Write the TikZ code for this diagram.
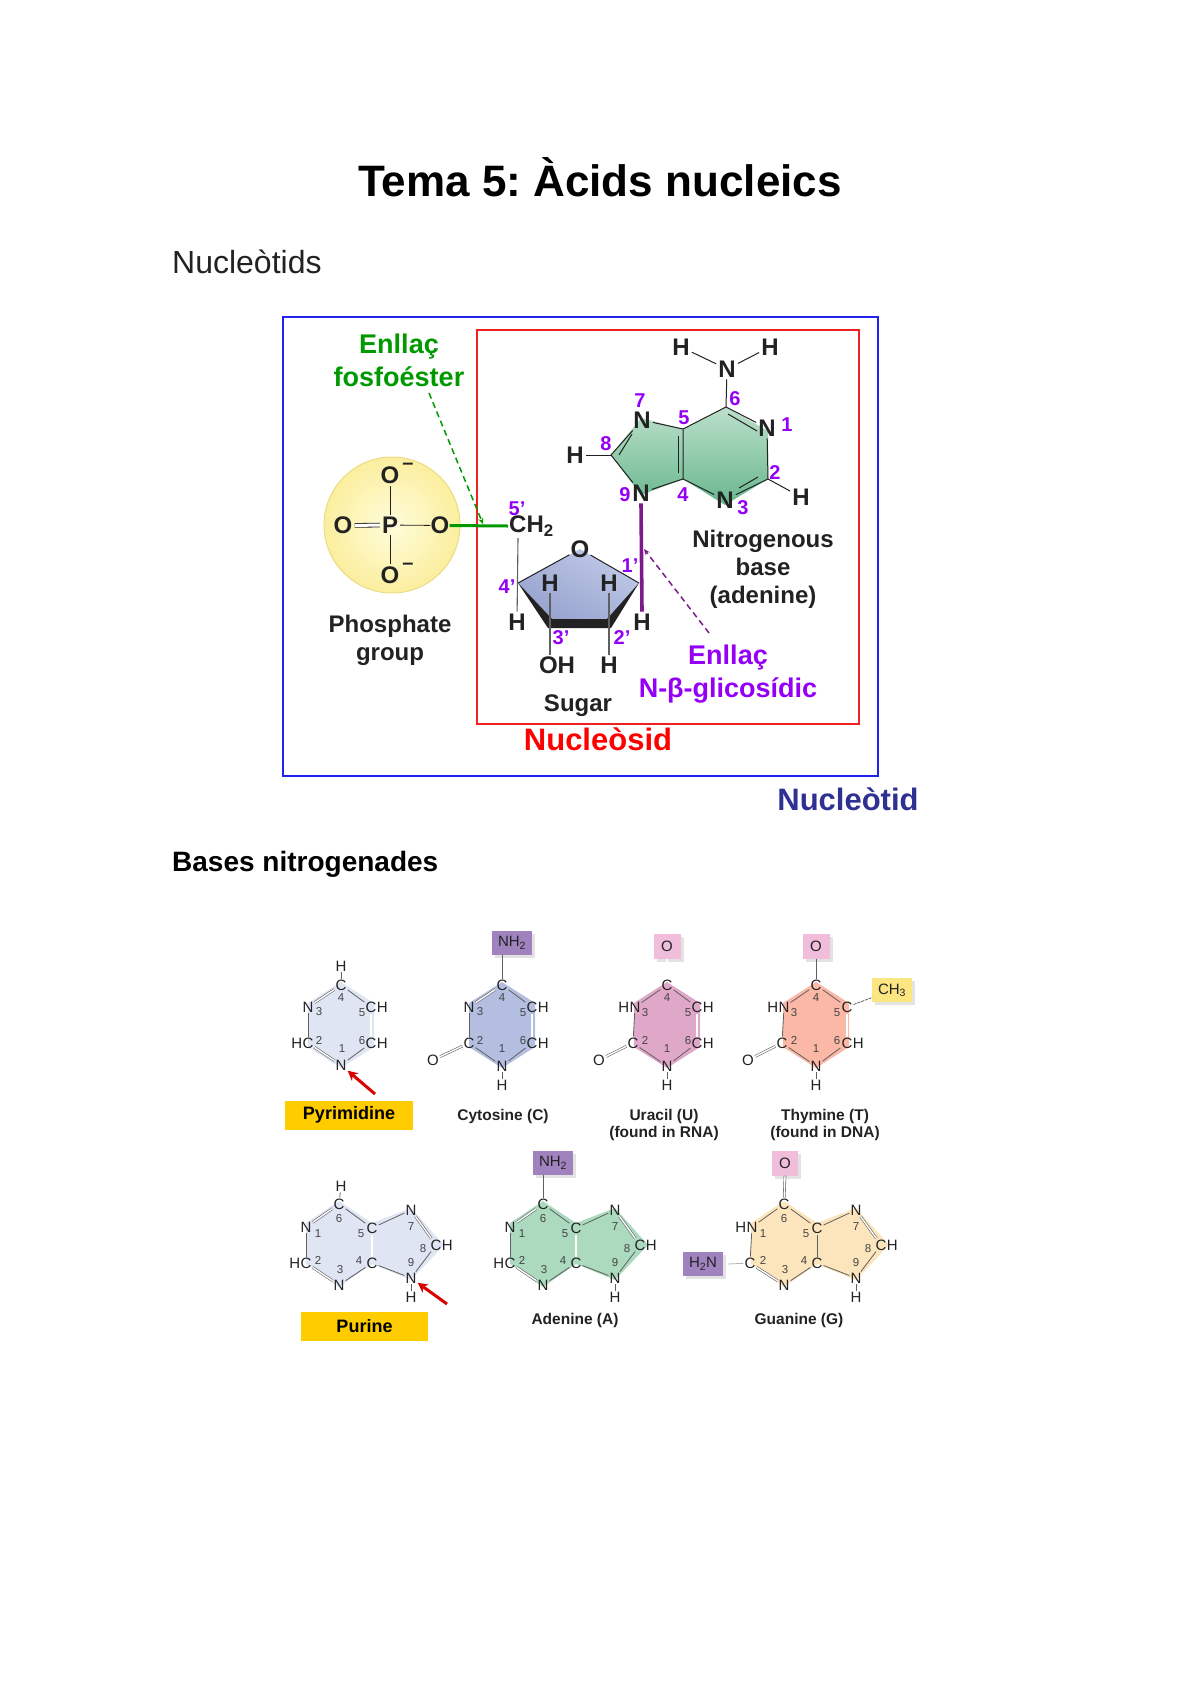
\documentclass[tikz,border=0pt]{standalone}
\usepackage{fontspec}
\setmainfont{Liberation Sans}
\usetikzlibrary{arrows.meta,calc,shadows}
\frenchspacing
\definecolor{ink}{HTML}{222222}
\definecolor{bondc}{HTML}{606060}
\definecolor{numc}{HTML}{444444}
\definecolor{bluebox}{HTML}{2222EE}
\definecolor{redbox}{HTML}{F02020}
\definecolor{grn}{HTML}{009A00}
\definecolor{pur}{HTML}{9400F5}
\definecolor{darkpur}{HTML}{7B1A8B}
\definecolor{navy}{HTML}{2E3192}
\definecolor{goldbox}{HTML}{FFCC00}
\definecolor{ringpale}{HTML}{E0E5F3}
\definecolor{ringcyt}{HTML}{B4BEE0}
\definecolor{ringura}{HTML}{E0A8C8}
\definecolor{ringthy}{HTML}{FBB8A6}
\definecolor{ringade}{HTML}{ABDABF}
\definecolor{ringgua}{HTML}{FCE5BC}
\definecolor{boxvio}{HTML}{A083BE}
\definecolor{boxpink}{HTML}{F0BEDB}
\definecolor{boxyel}{HTML}{FCE682}
\definecolor{suglight}{HTML}{C0C9E8}
\definecolor{sugdark}{HTML}{95A2CD}
\definecolor{adelight}{HTML}{BCE0CA}
\definecolor{adedark}{HTML}{68B78F}
\definecolor{phosin}{HTML}{FFFDDC}
\definecolor{phosout}{HTML}{FBEE9E}
\definecolor{phosline}{HTML}{EBD97E}
\newcommand{\fs}[1]{\fontsize{#1}{#1}\selectfont}
\tikzset{
  x=1pt,y=-1pt,
  txt/.style={inner sep=0pt,align=center,text=ink},
  big/.style={txt,font=\fs{24}\bfseries},
  bigatom/.style={big,inner sep=2pt},
  pnum/.style={inner sep=0pt,text=pur,font=\fs{20}\bfseries},
  atom/.style={inner sep=1pt,text=ink,font=\fs{15}},
  atomr/.style={atom,anchor=west,inner sep=0pt,xshift=-1pt},
  atoml/.style={atom,anchor=east,inner sep=0pt,xshift=1pt},
  num/.style={inner sep=0pt,text=numc,font=\fs{11.5}},
  bond/.style={draw=bondc,line width=.8pt},
  dbond/.style={draw=bondc,line width=.6pt,double,double distance=1.4pt},
  bigbond/.style={draw=ink,line width=1pt},
  sublabel/.style={inner sep=0pt,align=center,text=ink,font=\fs{15.5}\bfseries},
  goldlabel/.style={fill=goldbox,inner sep=0pt,text=black,font=\fs{18}\bfseries},
  subst/.style={inner sep=0pt,text=ink,font=\fs{15},drop shadow={shadow xshift=3pt,shadow yshift=-3pt,fill=black!11,opacity=1}},
  redarrow/.style={draw=red!85!black,line width=3pt,-{Stealth[length=10pt,width=10pt]}},
  dasharrow/.style={line width=1.5pt,dash pattern=on 6pt off 4pt,-{Stealth[length=6pt,width=5pt]}},
}
\begin{document}
\begin{tikzpicture}
\useasboundingbox (0,0) rectangle (1200,1698);
% headings
\node[inner sep=0pt,font=\fs{44}\bfseries,text=black] (title) at (600,177) {Tema 5: Àcids nucleics};
\node[inner sep=0pt,anchor=west,font=\fs{32},text=ink] (h1) at (172,262) {Nucleòtids};
\node[inner sep=0pt,anchor=west,font=\fs{28}\bfseries,text=black] (h2) at (172,864) {Bases nitrogenades};
% frames
\node[draw=bluebox,line width=2.2pt,minimum width=595pt,minimum height=459pt,inner sep=0pt,anchor=north west] (nucleotid) at (282,316) {};
\node[draw=redbox,line width=2.2pt,minimum width=382pt,minimum height=394pt,inner sep=0pt,anchor=north west] (nucleosid) at (475.5,329) {};
\node[inner sep=0pt,font=\fs{31}\bfseries,text=red] (tnucleosid) at (598,739) {Nucleòsid};
\node[inner sep=0pt,font=\fs{31}\bfseries,text=navy] (tnucleotid) at (848,799) {Nucleòtid};
% phosphate
\node[circle,minimum size=136pt,inner sep=0pt,draw=phosline,line width=.9pt,inner color=phosin,outer color=phosout] (phos) at (392,525) {};
\node[bigatom] (P) at (390,525) {P};
\node[bigatom] (Ot) at (390,475) {O};
\node[bigatom] (Ob) at (390,575) {O};
\node[bigatom] (Ol) at (343,525.5) {O};
\node[bigatom,inner sep=0pt] (Or) at (440,525.5) {O};
\node[txt,font=\fs{20}\bfseries] (mt) at (408,466) {–};
\node[txt,font=\fs{20}\bfseries] (mb) at (408,566) {–};
\draw[bigbond,line width=.8pt] (P)--(Ot);
\draw[bigbond,line width=.8pt] (P)--(Ob);
\draw[bigbond,line width=.8pt] (P)--(Or);
\draw[bigbond,line width=.8pt,double,double distance=3pt] (P)--(Ol);
\node[big] (tphos) at (390,640) {Phosphate\\[4pt]group};
% sugar
\coordinate (s4) at (518,583);
\coordinate (s1) at (639,583);
\coordinate (s3) at (550,623);
\coordinate (s2) at (609,623);
\path[top color=suglight,bottom color=sugdark,shading angle=-30] (s4)--(580,549)--(s1)--(s2)--(s3)--cycle;
\fill[ink] (s4)--(552,619)--(607,619)--(s1)--(611,628)--(548,628)--cycle;
\node[bigatom,inner sep=1pt] (sO) at (580,549) {O};
\node[bigatom] (Hu3) at (550,583) {H};
\node[bigatom] (Hu2) at (609,583) {H};
\node[bigatom] (Hd4) at (517,622) {H};
\node[bigatom] (Hd1) at (642,622) {H};
\node[bigatom,inner sep=1pt] (OH) at (557,665) {OH};
\node[bigatom] (Hd2) at (609,665) {H};
\node[bigatom,inner sep=1pt,anchor=west] (CH2) at (508,526) {CH\textsubscript{2}};
\coordinate (c5) at (518,538);
\draw[bigbond] (s4)--(sO)--(s1);
\draw[draw=bondc,line width=1.1pt] (c5)--(Hd4);
\draw[draw=bondc,line width=1.1pt] (Hu3)--(s3);
\draw[draw=bondc,line width=1.1pt] (Hu2)--(s2);
\draw[draw=bondc,line width=1.1pt] (s3)--(s3|-OH.north);
\draw[draw=bondc,line width=1.1pt] (s2)--(Hd2);
\node[pnum] (n5p) at (517,509) {5’};
\node[pnum] (n4p) at (507,587) {4’};
\node[pnum] (n1p) at (630,566) {1’};
\node[pnum] (n3p) at (561,638) {3’};
\node[pnum] (n2p) at (622,638) {2’};
\node[big] (tsugar) at (578,706) {Sugar};
% adenine large
\path[top color=adelight,bottom color=adedark] (726,407)--(768,431)--(768,479)--(725,505)--(683,479)--(641,495)--(611,455)--(641,418)--(683,429)--cycle;
\node[bigatom] (aN) at (727,369) {N};
\node[bigatom] (aHl) at (681,347) {H};
\node[bigatom] (aHr) at (770,347) {H};
\node[bigatom] (aN1) at (767,428) {N};
\node[bigatom] (aN3) at (725,500) {N};
\node[bigatom] (aN7) at (642,420) {N};
\node[bigatom] (aN9) at (641,493) {N};
\node[bigatom] (aH2) at (801,497) {H};
\node[bigatom] (aH8) at (575,455) {H};
\coordinate (a6) at (726,407);
\coordinate (a2) at (768,479);
\coordinate (a4) at (683,479);
\coordinate (a5) at (683,429);
\coordinate (a8) at (611,455);
\draw[bigbond] (aN)--(aHl);
\draw[bigbond] (aN)--(aHr);
\draw[bigbond] (aN)--(a6)--(aN1)--(a2)--(aN3)--(a4)--(a5)--(a6);
\draw[bigbond] (a5)--(aN7)--(a8)--(aN9)--(a4);
\draw[bigbond] (a2)--(aH2);
\draw[bigbond] (a8)--(aH8);
\draw[bigbond] (728,414)--(757,431);
\draw[bigbond] (739,488)--(758,477);
\draw[bigbond] (678,436)--(678,473);
\draw[bigbond] (619,455)--(632,434);
\node[pnum] (n6) at (735,399) {6};
\node[pnum] (n1) at (787,425) {1};
\node[pnum] (n2) at (775,473) {2};
\node[pnum] (n3) at (743,508) {3};
\node[pnum] (n4) at (683,495) {4};
\node[pnum] (n5) at (684,418) {5};
\node[pnum] (n7) at (640,401) {7};
\node[pnum] (n8) at (606,444) {8};
\node[pnum] (n9) at (625,495) {9};
\node[big] (tbase) at (763,569) {Nitrogenous\\[4pt]base\\[4pt](adenine)};
% glycosidic + ester bonds
\draw[darkpur,line width=3.6pt] (aN9.south)--(Hd1.north);
\draw[grn,line width=3pt] (Or.east)--(CH2.west);
\node[txt,text=grn,font=\fs{27}\bfseries] (tester) at (399,360) {Enllaç\\[6pt]fosfoéster};
\node[txt,text=pur,font=\fs{27}\bfseries] (tglyc) at (728,674) {Enllaç\\[6pt]N-β-glicosídic};
\coordinate (e1) at (429,393);
\coordinate (e2) at (483,524);
\coordinate (g1) at (709,633);
\coordinate (g2) at (644,549);
\draw[dasharrow,grn] (e1)--(e2);
\draw[dasharrow,darkpur] (g1)--(g2);

% ---- Pyrimidine
\begin{scope}[shift={(341,985)},name prefix=py-]
\fill[ringpale] (0,-3)--(33,18)--(33,62)--(0,83)--(-33,62)--(-33,18)--cycle;
\node[atom] (H) at (0,-19) {H};
\node[atom] (c4) at (0,0) {C};
\node[atom] (n3) at (-33,22) {N};
\node[atom] (c2) at (-33,58) {C};
\node[atoml] (h2) at (c2.west) {H};
\node[atom] (n1) at (0,80) {N};
\node[atom] (c6) at (30,58) {C};
\node[atomr] (h6) at (c6.east) {H};
\node[atom] (c5) at (30,22) {C};
\node[atomr] (h5) at (c5.east) {H};
\draw[bond] (H)--(c4);
\draw[dbond] (c4)--(n3);
\draw[bond] (n3)--(c2);
\draw[dbond] (c2)--(n1);
\draw[bond] (n1)--(c6);
\draw[dbond] (c6)--(c5);
\draw[bond] (c5)--(c4);
\node[num] (l4) at (0,13) {4};
\node[num] (l3) at (-22,27) {3};
\node[num] (l2) at (-22,55) {2};
\node[num] (l1) at (1,64) {1};
\node[num] (l6) at (21,56) {6};
\node[num] (l5) at (21,28) {5};
\end{scope}
\node[goldlabel,minimum width=128pt,minimum height=29pt] (tpy) at (349,1115) {Pyrimidine};
\coordinate (pya) at (375,1094);
\draw[redarrow] (pya)--(py-n1);
% ---- Cytosine
\begin{scope}[shift={(502,985)},name prefix=cy-]
\fill[ringcyt] (0,-3)--(33,18)--(33,62)--(0,83)--(-33,62)--(-33,18)--cycle;
\node[subst,fill=boxvio,minimum width=40pt,minimum height=24pt] (nh) at (10,-42) {NH\textsubscript{2}};
\node[atom] (c4) at (0,0) {C};
\node[atom] (n3) at (-33,22) {N};
\node[atom] (c2) at (-33,58) {C};
\node[atom] (o) at (-69,75) {O};
\node[atom] (n1) at (0,81) {N};
\node[atom] (h1) at (0,100) {H};
\node[atom] (c6) at (30,58) {C};
\node[atomr] (h6) at (c6.east) {H};
\node[atom] (c5) at (30,22) {C};
\node[atomr] (h5) at (c5.east) {H};
\draw[bond] (c4|-nh.south)--(c4);
\draw[dbond] (c4)--(n3);
\draw[bond] (n3)--(c2);
\draw[dbond] (c2)--(o);
\draw[bond] (c2)--(n1);
\draw[bond] (n1)--(h1);
\draw[bond] (n1)--(c6);
\draw[dbond] (c6)--(c5);
\draw[bond] (c5)--(c4);
\node[num] (l4) at (0,13) {4};
\node[num] (l3) at (-22,27) {3};
\node[num] (l2) at (-22,55) {2};
\node[num] (l1) at (0,64) {1};
\node[num] (l6) at (21,56) {6};
\node[num] (l5) at (21,28) {5};
\end{scope}
\node[sublabel] (tcy) at (503,1116) {Cytosine (C)};
% ---- Uracil
\begin{scope}[shift={(667,985)},name prefix=ur-]
\fill[ringura] (0,-3)--(33,18)--(33,62)--(0,83)--(-33,62)--(-33,18)--cycle;
\node[subst,fill=boxpink,minimum width=27pt,minimum height=25pt] (ob) at (0,-39) {O};
\node[atom] (c4) at (0,0) {C};
\node[atom] (n3) at (-32,22) {N};
\node[atoml] (h3) at (n3.west) {H};
\node[atom] (c2) at (-34,58) {C};
\node[atom] (o) at (-68,75) {O};
\node[atom] (n1) at (0,81) {N};
\node[atom] (h1) at (0,100) {H};
\node[atom] (c6) at (30,58) {C};
\node[atomr] (h6) at (c6.east) {H};
\node[atom] (c5) at (30,22) {C};
\node[atomr] (h5) at (c5.east) {H};
\draw[dbond] (ob.south)--(c4);
\draw[bond] (c4)--(n3);
\draw[bond] (n3)--(c2);
\draw[dbond] (c2)--(o);
\draw[bond] (c2)--(n1);
\draw[bond] (n1)--(h1);
\draw[bond] (n1)--(c6);
\draw[dbond] (c6)--(c5);
\draw[bond] (c5)--(c4);
\node[num] (l4) at (0,13) {4};
\node[num] (l3) at (-22,28) {3};
\node[num] (l2) at (-22,55) {2};
\node[num] (l1) at (0,64) {1};
\node[num] (l6) at (21,56) {6};
\node[num] (l5) at (21,28) {5};
\end{scope}
\node[sublabel] (tur) at (664,1125) {Uracil (U)\\[2pt](found in RNA)};
% ---- Thymine
\begin{scope}[shift={(816,985)},name prefix=th-]
\fill[ringthy] (0,-3)--(33,18)--(33,62)--(0,83)--(-33,62)--(-33,18)--cycle;
\node[subst,fill=boxpink,minimum width=27pt,minimum height=25pt] (ob) at (0,-39) {O};
\node[subst,fill=boxyel,minimum width=40pt,minimum height=24pt] (me) at (76,5) {CH\textsubscript{3}};
\node[atom] (c4) at (0,0) {C};
\node[atom] (n3) at (-32,22) {N};
\node[atoml] (h3) at (n3.west) {H};
\node[atom] (c2) at (-34,58) {C};
\node[atom] (o) at (-68,75) {O};
\node[atom] (n1) at (0,81) {N};
\node[atom] (h1) at (0,100) {H};
\node[atom] (c6) at (31,58) {C};
\node[atomr] (h6) at (c6.east) {H};
\node[atom] (c5) at (31,22) {C};
\draw[bond] (ob.south)--(c4);
\draw[bond] (c4)--(n3);
\draw[bond] (n3)--(c2);
\draw[dbond] (c2)--(o);
\draw[bond] (c2)--(n1);
\draw[bond] (n1)--(h1);
\draw[bond] (n1)--(c6);
\draw[dbond] (c6)--(c5);
\draw[bond] (c5)--(c4);
\draw[bond,dash pattern=on 3pt off 1pt] (c5)--(me);
\node[num] (l4) at (0,13) {4};
\node[num] (l3) at (-22,28) {3};
\node[num] (l2) at (-22,55) {2};
\node[num] (l1) at (0,64) {1};
\node[num] (l6) at (21,56) {6};
\node[num] (l5) at (21,28) {5};
\end{scope}
\node[sublabel] (tth) at (825,1125) {Thymine (T)\\[2pt](found in DNA)};
% ---- Purine
\begin{scope}[shift={(339,1204)},name prefix=pu-]
\fill[ringpale] (0,-3)--(33,19)--(72,4)--(105,41)--(72,76)--(33,60)--(0,83)--(-33,60)--(-33,19)--cycle;
\node[atom] (H) at (2,-18) {H};
\node[atom] (c6) at (0,0) {C};
\node[atom] (n1) at (-33,23) {N};
\node[atom] (c2) at (-33,59) {C};
\node[atoml] (h2) at (c2.west) {H};
\node[atom] (n3) at (0,81) {N};
\node[atom] (c4) at (33,59) {C};
\node[atom] (c5) at (33,24) {C};
\node[atom] (n7) at (72,6) {N};
\node[atom] (c8) at (97,41) {C};
\node[atomr] (h8) at (c8.east) {H};
\node[atom] (n9) at (72,74) {N};
\node[atom] (h9) at (72,93) {H};
\draw[bond] (H)--(c6);
\draw[dbond] (c6)--(n1);
\draw[bond] (n1)--(c2);
\draw[dbond] (c2)--(n3);
\draw[bond] (n3)--(c4);
\draw[dbond] (c4)--(c5);
\draw[bond] (c5)--(c6);
\draw[bond] (c5)--(n7);
\draw[dbond] (n7)--(c8);
\draw[bond] (c8)--(n9);
\draw[bond] (n9)--(c4);
\draw[bond] (n9)--(h9);
\node[num] (l6) at (0,15) {6};
\node[num] (l1) at (-21,30) {1};
\node[num] (l2) at (-21,56) {2};
\node[num] (l3) at (1,66) {3};
\node[num] (l4) at (20,57) {4};
\node[num] (l5) at (22,30) {5};
\node[num] (l7) at (72,23) {7};
\node[num] (l8) at (84,45) {8};
\node[num] (l9) at (72,59) {9};
\end{scope}
\node[goldlabel,minimum width=127pt,minimum height=29pt] (tpu) at (364.5,1326.5) {Purine};
\coordinate (pua) at (447,1304);
\draw[redarrow] (pua)--(pu-n9);
% ---- Adenine
\begin{scope}[shift={(543,1204)},name prefix=ad-]
\fill[ringade] (0,-3)--(33,19)--(72,4)--(105,41)--(72,76)--(33,60)--(0,83)--(-33,60)--(-33,19)--cycle;
\node[subst,fill=boxvio,minimum width=40pt,minimum height=24pt] (nh) at (10,-41) {NH\textsubscript{2}};
\node[atom] (c6) at (0,0) {C};
\node[atom] (n1) at (-33,23) {N};
\node[atom] (c2) at (-33,59) {C};
\node[atoml] (h2) at (c2.west) {H};
\node[atom] (n3) at (0,81) {N};
\node[atom] (c4) at (33,59) {C};
\node[atom] (c5) at (33,24) {C};
\node[atom] (n7) at (72,6) {N};
\node[atom] (c8) at (97,41) {C};
\node[atomr] (h8) at (c8.east) {H};
\node[atom] (n9) at (72,74) {N};
\node[atom] (h9) at (72,93) {H};
\draw[bond] (c6|-nh.south)--(c6);
\draw[dbond] (c6)--(n1);
\draw[bond] (n1)--(c2);
\draw[dbond] (c2)--(n3);
\draw[bond] (n3)--(c4);
\draw[dbond] (c4)--(c5);
\draw[bond] (c5)--(c6);
\draw[bond] (c5)--(n7);
\draw[dbond] (n7)--(c8);
\draw[bond] (c8)--(n9);
\draw[bond] (n9)--(c4);
\draw[bond] (n9)--(h9);
\node[num] (l6) at (0,15) {6};
\node[num] (l1) at (-21,30) {1};
\node[num] (l2) at (-21,56) {2};
\node[num] (l3) at (1,66) {3};
\node[num] (l4) at (20,57) {4};
\node[num] (l5) at (22,30) {5};
\node[num] (l7) at (72,23) {7};
\node[num] (l8) at (84,45) {8};
\node[num] (l9) at (72,59) {9};
\end{scope}
\node[sublabel] (tad) at (575,1320) {Adenine (A)};
% ---- Guanine
\begin{scope}[shift={(784,1204)},name prefix=gu-]
\fill[ringgua] (0,-3)--(33,19)--(72,4)--(105,41)--(72,76)--(33,60)--(0,83)--(-33,60)--(-33,19)--cycle;
\node[subst,fill=boxpink,minimum width=26pt,minimum height=25pt] (ob) at (1,-41) {O};
\node[subst,fill=boxvio,minimum width=40pt,minimum height=24pt] (nh) at (-81,60) {H\textsubscript{2}N};
\node[atom] (c6) at (0,0) {C};
\node[atom] (n1) at (-32,23) {N};
\node[atoml] (h1) at (n1.west) {H};
\node[atom] (c2) at (-34,59) {C};
\node[atom] (n3) at (0,81) {N};
\node[atom] (c4) at (33,59) {C};
\node[atom] (c5) at (33,24) {C};
\node[atom] (n7) at (72,6) {N};
\node[atom] (c8) at (97,41) {C};
\node[atomr] (h8) at (c8.east) {H};
\node[atom] (n9) at (72,74) {N};
\node[atom] (h9) at (72,93) {H};
\coordinate (nhend) at ($(nh.east)+(5,0)$);
\draw[dbond] (ob.south)--(c6);
\draw[bond,draw=black!30] (nhend)--(c2);
\draw[bond] (c6)--(n1);
\draw[bond] (n1)--(c2);
\draw[dbond] (c2)--(n3);
\draw[bond] (n3)--(c4);
\draw[bond] (c4)--(c5);
\draw[bond] (c5)--(c6);
\draw[bond] (c5)--(n7);
\draw[dbond] (n7)--(c8);
\draw[bond] (c8)--(n9);
\draw[bond] (n9)--(c4);
\draw[bond] (n9)--(h9);
\node[num] (l6) at (0,15) {6};
\node[num] (l1) at (-21,30) {1};
\node[num] (l2) at (-21,56) {2};
\node[num] (l3) at (1,66) {3};
\node[num] (l4) at (20,57) {4};
\node[num] (l5) at (22,30) {5};
\node[num] (l7) at (72,23) {7};
\node[num] (l8) at (84,45) {8};
\node[num] (l9) at (72,59) {9};
\end{scope}
\node[sublabel] (tgu) at (799,1320) {Guanine (G)};
\end{tikzpicture}
\end{document}
